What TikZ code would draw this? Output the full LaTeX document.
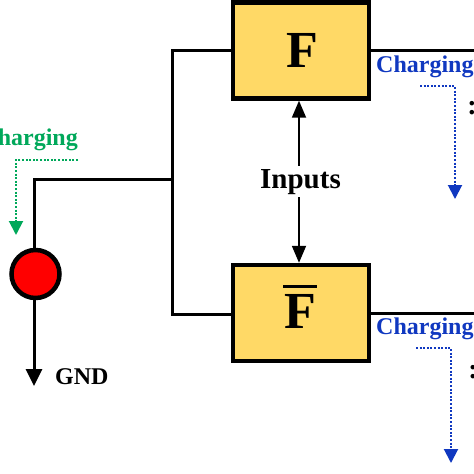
\documentclass[tikz,border=0pt]{standalone}
\usepackage{fontspec}
\setmainfont{Liberation Serif}
\usetikzlibrary{arrows.meta}

\definecolor{gvyellow}{HTML}{FFD966}
\definecolor{gvgreen}{HTML}{00A85A}
\definecolor{gvblue}{HTML}{1038C0}

\newcommand{\gvtext}[1]{\fontsize{#1}{#1}\selectfont\bfseries}

\tikzset{
  gvblock/.style={draw=black, fill=gvyellow, line width=4.4pt, minimum width=135.5pt, minimum height=96pt, inner sep=0pt, font=\gvtext{52}},
  gvwire/.style={draw=black, line width=3pt},
  gvinput/.style={draw=black, line width=1.8pt, -{Triangle[length=17pt,width=14pt]}},
  gvground/.style={draw=black, line width=3pt, -{Triangle[length=17pt,width=16pt]}},
  gvflow/.style={line width=2pt, dash pattern=on 2pt off 1.6pt, -{Triangle[length=14pt,width=14pt]}},
  gvsource/.style={circle, draw=black, fill=red, line width=4.5pt, minimum size=48pt, inner sep=0pt},
  gvlabel/.style={inner sep=0pt, font=\gvtext{24}}
}

\begin{document}
\begin{tikzpicture}[x=1pt, y=-1pt]
\useasboundingbox (0,0) rectangle (474,474);

\node[gvblock] (f) at (301,50.5) {};
\node[gvblock] (fbar) at (301,313) {};
\node[anchor=base, inner sep=0pt, font=\gvtext{52}] (ftext) at (302,67) {F};
\node[anchor=base, inner sep=0pt, font=\gvtext{52}] (fbartext) at (300,328) {\vbox{\hrule width 34pt height 3pt\kern6pt\hbox to 34pt{\hss F\hss}}};
\node[gvsource] (source) at (35.5,274) {};
\node[anchor=base, inner sep=3pt, font=\gvtext{29}] (inputs) at (300.5,188) {Inputs};

\node[gvlabel, anchor=base west] (gnd) at (55,384) {GND};
\node[gvlabel, anchor=base east, text=gvgreen] (greenlabel) at (78,145) {Charging};
\node[gvlabel, anchor=base west, text=gvblue] (bluetop) at (376,72) {Charging};
\node[gvlabel, anchor=base west, text=gvblue] (bluebottom) at (376,334) {Charging};
\node[inner sep=0pt, font=\gvtext{28}] (dotstop) at (472,108) {:};
\node[inner sep=0pt, font=\gvtext{28}] (dotsbottom) at (473,372) {:};

\coordinate (junctop) at (172.5,50);
\coordinate (juncmid) at (172.5,179);
\coordinate (juncbottom) at (172.5,314);
\coordinate (corner) at (34,179);
\coordinate (gndtip) at (34,386);
\coordinate (outtop) at (474,50);
\coordinate (outbottom) at (474,313);
\coordinate (inputaxis) at (299,188);

\draw[gvwire] (f.west |- junctop) -- (junctop) -- (juncbottom) -- (fbar.west |- juncbottom);
\draw[gvwire] (juncmid) -- (corner) -- (corner |- source.north);
\draw[gvground] (corner |- source.south) -- (gndtip);
\draw[gvwire] (f.east |- outtop) -- (outtop);
\draw[gvwire] (fbar.east |- outbottom) -- (outbottom);
\draw[gvinput] (inputs.north -| inputaxis) -- (inputaxis |- f.south);
\draw[gvinput] (inputs.south -| inputaxis) -- (inputaxis |- fbar.north);

\coordinate (greenstart) at (78,160);
\coordinate (greenbend) at (16,160);
\coordinate (greentip) at (16,235);
\draw[gvflow, draw=gvgreen] (greenstart) -- (greenbend) -- (greentip);

\coordinate (bluestarttop) at (420,86);
\coordinate (bluebendtop) at (455,86);
\coordinate (bluetiptop) at (455,199);
\draw[gvflow, draw=gvblue] (bluestarttop) -- (bluebendtop) -- (bluetiptop);

\coordinate (bluestartbottom) at (416,348);
\coordinate (bluebendbottom) at (451,348);
\coordinate (bluetipbottom) at (451,463);
\draw[gvflow, draw=gvblue] (bluestartbottom) -- (bluebendbottom) -- (bluetipbottom);
\end{tikzpicture}
\end{document}
